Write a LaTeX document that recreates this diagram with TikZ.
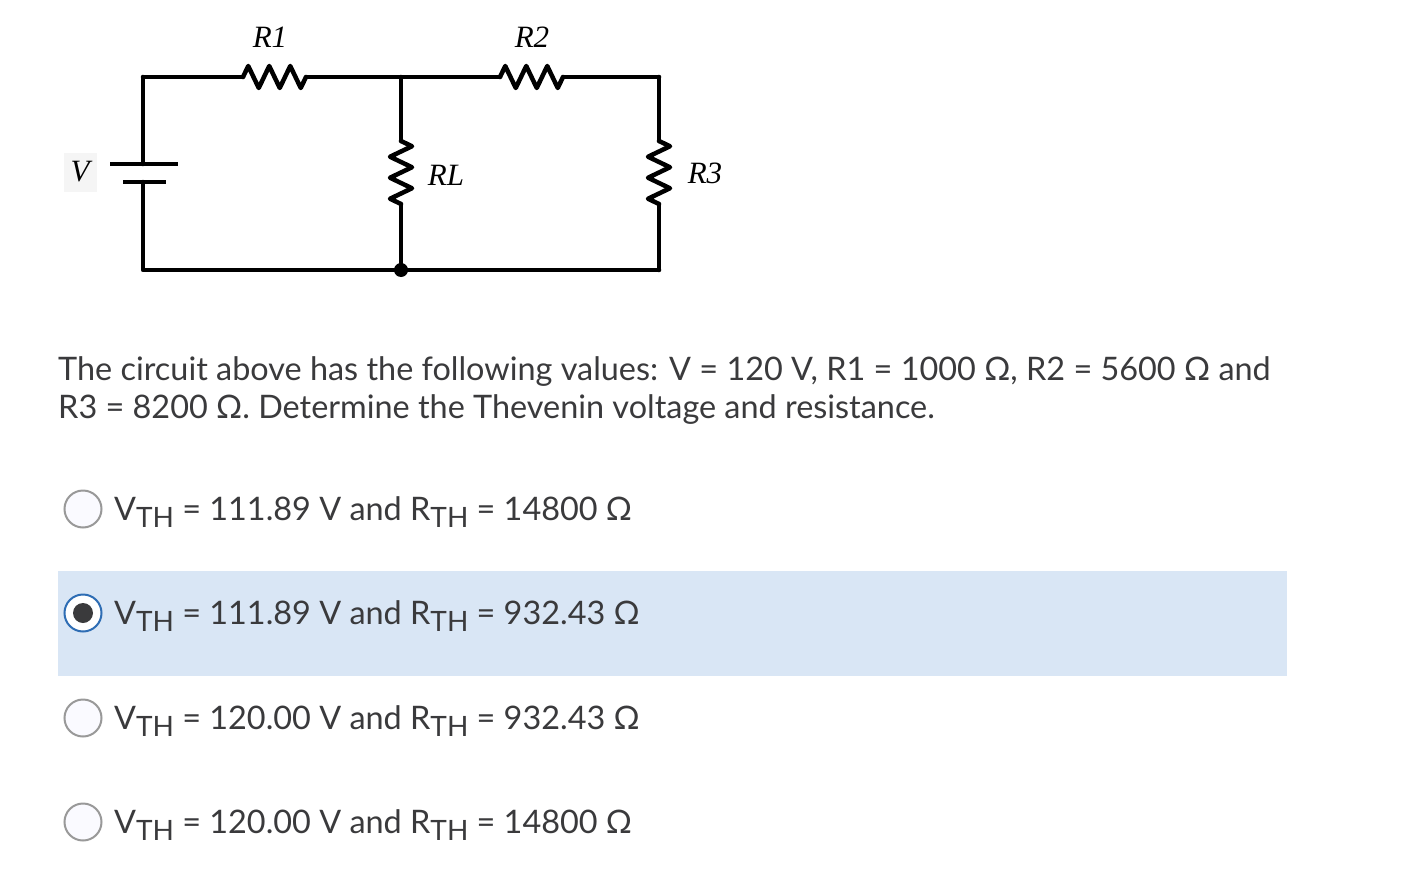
\documentclass[tikz,border=0pt]{standalone}
\usepackage{fontspec}
\setmainfont{Lato}
\newfontfamily\lblfont{Liberation Serif}
\usetikzlibrary{decorations.pathmorphing}
\definecolor{txt}{HTML}{3A3A3C}
\definecolor{hl}{HTML}{D9E6F5}
\definecolor{radblue}{HTML}{2E6DB4}
\tikzset{
 wire/.style={line width=4.5pt,black,line cap=round,line join=round},
 zz/.style={wire,decorate,decoration={zigzag,segment length=21pt,amplitude=11pt}},
 lbl/.style={font=\lblfont\itshape\fontsize{31}{31}\selectfont},
 body/.style={anchor=base west,text=txt,font=\fontsize{32.4}{38}\selectfont,inner sep=0pt},
 radio/.style={circle,draw=gray!80,line width=2pt,fill=blue!2,minimum size=37pt,inner sep=0pt},
}
\newcommand{\vth}[2]{V\raisebox{-7pt}{\fontsize{28}{28}\selectfont TH} = #1 V and R\raisebox{-7pt}{\fontsize{28}{28}\selectfont TH} = #2 Ω}
\begin{document}
\begin{tikzpicture}[x=1pt,y=-1pt]
\useasboundingbox (0,0) rectangle (1410,888);
\fill[white] (0,0) rectangle (1410,888);
% circuit
\coordinate (tl) at (143,77); \coordinate (tm) at (401,77); \coordinate (tr) at (659,77);
\coordinate (bl) at (143,270); \coordinate (bm) at (401,270); \coordinate (br) at (659,270);
\draw[wire] (tl) -- (243,77); \draw[zz] (243,77) -- (306,77); \draw[wire] (306,77) -- (500,77);
\draw[zz] (500,77) -- (563,77); \draw[wire] (563,77) -- (tr);
\draw[wire] (tm) -- (401,141); \draw[zz] (401,141) -- (401,204); \draw[wire] (401,204) -- (bm);
\draw[wire] (tr) -- (659,141); \draw[zz] (659,141) -- (659,204); \draw[wire] (659,204) -- (br);
\draw[wire] (tl) -- (143,164); \draw[wire] (143,182) -- (bl) -- (br);
\draw[wire,line cap=butt] (110,164) -- (178,164);
\draw[wire,line cap=butt] (123,182) -- (166,182);
\fill (bm) circle (7pt);
\node[lbl] (r1) at (270,37) {R1};
\node[lbl] (r2) at (532,37) {R2};
\node[lbl] (rl) at (446,175) {RL};
\node[lbl] (r3) at (705,173) {R3};
\node[lbl,fill=gray!8,minimum width=33pt,minimum height=39pt,inner sep=0pt] (v) at (80,172) {V};
% text
\node[body] (q1) at (58,380) {The circuit above has the following values: V = 120 V, R1 = 1000 Ω, R2 = 5600 Ω and};
\node[body] (q2) at (58,418) {R3 = 8200 Ω. Determine the Thevenin voltage and resistance.};
\fill[hl] (58,571) rectangle (1287,676);
\node[radio] (c1) at (83,509) {};
\node[radio,draw=radblue,fill=white] (c2) at (83,613) {};
\fill[txt] (c2) circle (10pt);
\node[radio] (c3) at (83,718) {};
\node[radio] (c4) at (83,822) {};
\node[body] (o1) at (114,520) {\vth{111.89}{14800}};
\node[body] (o2) at (114,624) {\vth{111.89}{932.43}};
\node[body] (o3) at (114,729) {\vth{120.00}{932.43}};
\node[body] (o4) at (114,833) {\vth{120.00}{14800}};
\end{tikzpicture}
\end{document}
